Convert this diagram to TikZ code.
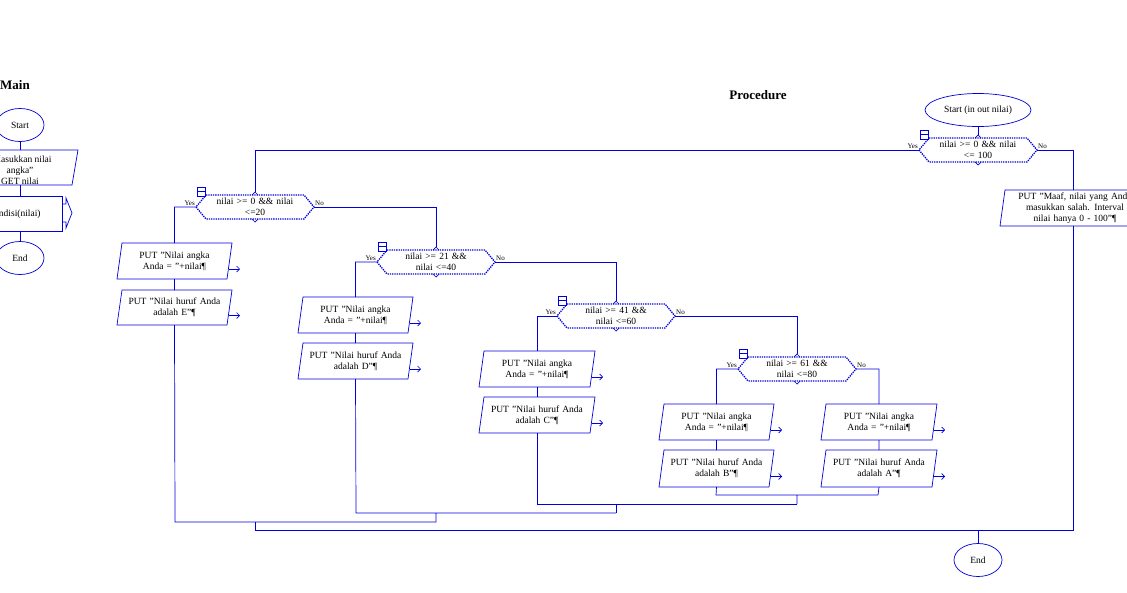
\documentclass[tikz,border=0pt]{standalone}
\usepackage{fontspec}
\setmainfont{Liberation Serif}
\usetikzlibrary{arrows.meta,shapes.geometric}
\definecolor{fb}{RGB}{0,0,220}
\newcommand{\pbox}[6]{% x1 y1 x2 y2 name text
  \draw[ln] (#1+5,#2) -- (#3,#2) -- (#3-5,#4) -- (#1,#4) -- cycle;
  \node[txt,text width={(#3-#1-6)*1pt}] (#5) at ({(#1+#3)/2},{(#2+#4)/2}) {#6};
  \coordinate (#5t) at ({(#1+#3)/2},#2);
  \coordinate (#5b) at ({(#1+#3)/2},#4);
  \draw[ln,-{Straight Barb[length=3pt,width=6pt]}] (#3-3,{(#2+#4)/2+8}) -- (#3+8,{(#2+#4)/2+8});
}
\newcommand{\dec}[4]{% cx cy name text
  \draw[fb,densely dotted,line width=1.3pt] (#1-49,#2-12) -- (#1+49,#2-12) -- (#1+59,#2) -- (#1+49,#2+12) -- (#1-49,#2+12) -- (#1-59,#2) -- cycle;
  \draw[ln] (#1-3,#2-12) -- (#1,#2-15) -- (#1+3,#2-12);
  \draw[ln] (#1-3,#2+12) -- (#1,#2+15) -- (#1+3,#2+12);
  \node[txt,text width=100pt] (#3) at (#1,#2) {#4};
  \coordinate (#3t) at (#1,#2-15);
  \coordinate (#3b) at (#1,#2+12);
  \coordinate (#3l) at (#1-59,#2);
  \coordinate (#3r) at (#1+59,#2);
  \draw[ln] (#1-58,#2-20) rectangle (#1-50,#2-11) (#1-58,#2-15.5) -- (#1-50,#2-15.5);
  \node[lab,anchor=south east] at (#1-59,#2) {Yes};
  \node[lab,anchor=south west] at (#1+59,#2) {No};
}
\begin{document}
\begin{tikzpicture}[x=1pt,y=-1pt,
  ln/.style={fb,line width=0.7pt},
  txt/.style={font=\fontsize{9.5}{11}\selectfont,align=center,inner sep=0pt},
  lab/.style={font=\fontsize{7}{8}\selectfont,inner sep=1pt},
  term/.style={ln,draw,text=black,ellipse,minimum width=48pt,minimum height=33pt,font=\fontsize{9.5}{11}\selectfont,inner sep=0pt},
  tit/.style={font=\bfseries\fontsize{13}{15}\selectfont}]
\useasboundingbox (0,0) rectangle (1127,592);
\node[tit,anchor=west,inner sep=0pt] (tm) at (0,85) {Main};
\node[tit] (tp) at (758,95) {Procedure};
% main
\node[term] (ms) at (20,125) {Start};
\draw[ln] (-40,150) -- (78,150) -- (72,185) -- (-40,185);
\node[txt] (mi) at (20,170) {"Masukkan nilai\\angka"\\GET nilai};
\draw[ln] (-40,196) -- (62,196) -- (62,231) -- (-40,231);
\node[txt] (mk) at (14,214) {Kondisi(nilai)};
\draw[ln] (62,204) -- (66,204) -- (66,198) -- (72,213) -- (66,228) -- (66,222) -- (62,222);
\node[term] (me) at (20,258) {End};
\draw[ln] (ms) -- (20,150) (20,185) -- (20,196) (20,231) -- (me);
% procedure
\node[term,minimum width=106pt] (ps) at (978,110) {Start (in out nilai)};
\dec{978}{150}{d1}{nilai >= 0 \&\& nilai\\<= 100}
\dec{255}{207}{d2}{nilai >= 0 \&\& nilai\\<=20}
\dec{436}{262}{d3}{nilai >= 21 \&\&\\nilai <=40}
\dec{616}{316}{d4}{nilai >= 41 \&\&\\nilai <=60}
\dec{797}{369}{d5}{nilai >= 61 \&\&\\nilai <=80}
\pbox{1000}{190}{1150}{226}{err}{PUT "Maaf, nilai yang Anda\\masukkan salah. Interval\\nilai hanya 0 - 100"¶}
\pbox{117}{243}{232}{279}{e1}{PUT "Nilai angka\\Anda = "+nilai¶}
\pbox{117}{290}{232}{325}{e2}{PUT "Nilai huruf Anda\\adalah E"¶}
\pbox{298}{297}{413}{333}{c1}{PUT "Nilai angka\\Anda = "+nilai¶}
\pbox{298}{343}{413}{379}{c2}{PUT "Nilai huruf Anda\\adalah D"¶}
\pbox{479}{351}{595}{387}{b1}{PUT "Nilai angka\\Anda = "+nilai¶}
\pbox{479}{397}{595}{433}{b2}{PUT "Nilai huruf Anda\\adalah C"¶}
\pbox{659}{404}{774}{440}{a1}{PUT "Nilai angka\\Anda = "+nilai¶}
\pbox{659}{450}{774}{487}{a2}{PUT "Nilai huruf Anda\\adalah B"¶}
\pbox{821}{404}{937}{440}{z1}{PUT "Nilai angka\\Anda = "+nilai¶}
\pbox{821}{450}{937}{487}{z2}{PUT "Nilai huruf Anda\\adalah A"¶}
\node[term] (pe) at (978,560) {End};
\coordinate (j0) at (978,530);
% connectors
\draw[ln] (ps) -- (d1t);
\draw[ln] (d1l) -| (d2t);
\draw[ln] (d1r) -| (1073,190);
\draw[ln] (1073,226) -- (1073,530) -- (255,530);
\draw[ln] (j0) -- (pe);
\draw[ln] (d2l) -| (e1t) (e1b) -- (e2t) (e2b) -- (175,522) -- (436,522);
\draw[ln] (d2r) -| (d3t) (255,522) -- (255,530);
\draw[ln] (d3l) -| (c1t) (c1b) -- (c2t) (c2b) -- (356,513) -- (616,513) (436,513) -- (436,522);
\draw[ln] (d3r) -| (d4t);
\draw[ln] (d4l) -| (b1t) (b1b) -- (b2t) (b2b) -- (537,504) -- (797,504) (616,504) -- (616,513);
\draw[ln] (d4r) -| (d5t);
\draw[ln] (d5l) -| (a1t) (a1b) -- (a2t) (a2b) -- (716,495) -- (878,495) (797,495) -- (797,504);
\draw[ln] (d5r) -| (z1t) (z1b) -- (z2t) (z2b) -- (878,495);
\end{tikzpicture}
\end{document}
